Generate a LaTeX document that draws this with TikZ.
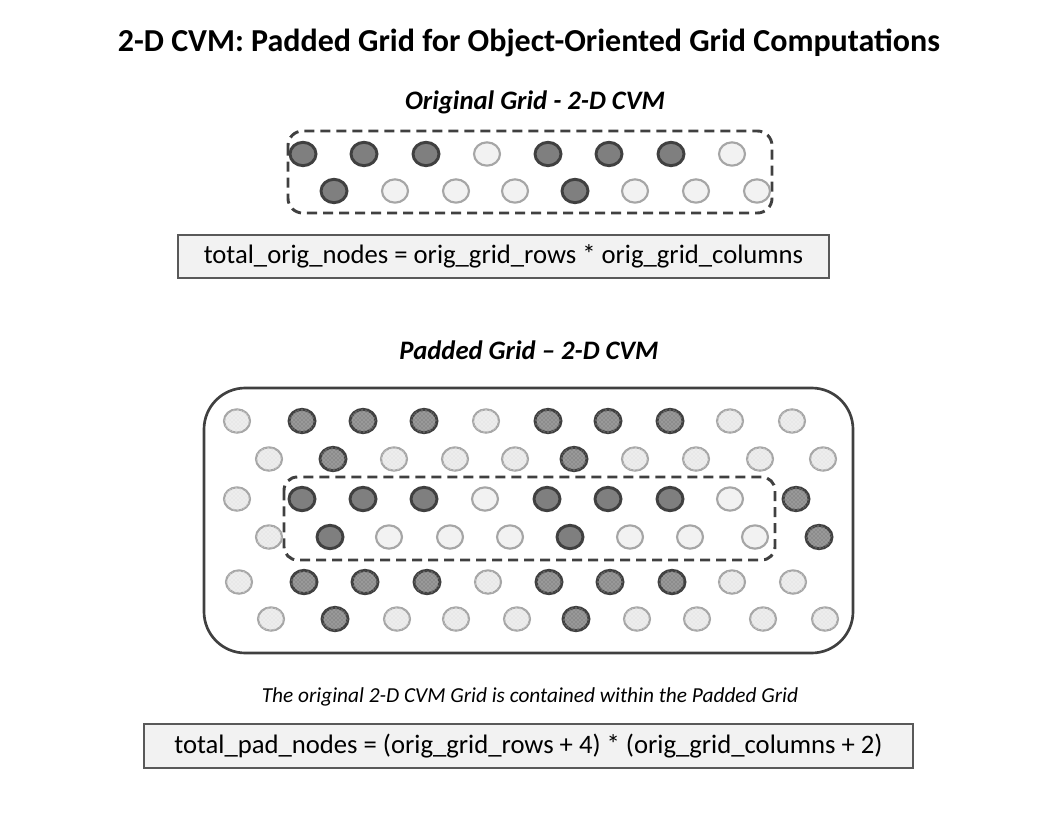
\documentclass[tikz,border=0pt]{standalone}
\usepackage{fontspec}
\setmainfont{Carlito}
\usetikzlibrary{shapes.geometric,patterns}

\begin{document}
\begin{tikzpicture}[x=0.75pt,y=-0.75pt,
  origdark/.style={ellipse,draw=edgedark,fill=dotdark,line width=2.2pt,
    minimum width=19.5pt,minimum height=17.5pt,inner sep=0pt},
  origlight/.style={ellipse,draw=edgelight,fill=dotlight,line width=1.6pt,
    minimum width=19.5pt,minimum height=17.5pt,inner sep=0pt},
  paddark/.style={origdark,fill=texdark,
    postaction={pattern=crosshatch dots,pattern color=gray!45}},
  padlight/.style={origlight,fill=texlight,
    postaction={pattern=crosshatch dots,pattern color=white}},
  formula/.style={draw=boxedge,fill=boxfill,line width=1.5pt,
    font=\fontsize{20}{24}\selectfont,inner sep=0pt},
  heading/.style={font=\fontsize{20}{24}\selectfont\bfseries\itshape}]
\definecolor{edgedark}{RGB}{64,64,64}
\definecolor{edgelight}{RGB}{166,166,166}
\definecolor{dotdark}{RGB}{127,127,127}
\definecolor{dotlight}{RGB}{242,242,242}
\definecolor{texdark}{RGB}{140,140,140}
\definecolor{texlight}{RGB}{232,232,232}
\definecolor{boxedge}{RGB}{89,89,89}
\definecolor{boxfill}{RGB}{242,242,242}
\useasboundingbox (0,0) rectangle (1056,816);

\node[font=\fontsize{24}{29}\selectfont\bfseries] (title) at (529,43)
  {2-D CVM: Padded Grid for Object-Oriented Grid Computations};

% Original grid.
\node[heading] (orighead) at (535,102) {Original Grid - 2-D CVM};
\draw[edgedark,line width=2.2pt,dash pattern=on 7.5pt off 4.5pt,rounded corners=11pt]
  (288,131) rectangle (772,213);
\foreach \x/\s [count=\i] in {303/origdark,364/origdark,426/origdark,487/origlight,
    548/origdark,609/origdark,671/origdark,732/origlight}
  \node[\s] (o1-\i) at (\x,154) {};
\foreach \x/\s [count=\i] in {334/origdark,395/origlight,456/origlight,515/origlight,
    575/origdark,635/origlight,696/origlight,757/origlight}
  \node[\s] (o2-\i) at (\x,191) {};
\node[formula,minimum width=488pt,minimum height=32pt] (origform) at (503.5,256.5)
  {total\_orig\_nodes = orig\_grid\_rows * orig\_grid\_columns};

% Padded grid.
\node[heading] (padhead) at (529,350) {Padded Grid -- 2-D CVM};
\draw[edgedark,line width=2pt,rounded corners=31pt] (204,388) rectangle (853,653);
\draw[edgedark,line width=2.2pt,dash pattern=on 7.5pt off 4.5pt,rounded corners=10pt]
  (284,477) rectangle (775,560);
\foreach \x/\s [count=\i] in {237/padlight,302/paddark,363/paddark,424/paddark,486/padlight,
    548/paddark,608/paddark,670/paddark,730/padlight,792/padlight}
  \node[\s] (p1-\i) at (\x,421) {};
\foreach \x/\s [count=\i] in {269/padlight,333/paddark,394/padlight,455/padlight,515/padlight,
    574/paddark,635/padlight,696/padlight,760/padlight,823/padlight}
  \node[\s] (p2-\i) at (\x,459) {};
\foreach \x/\s [count=\i] in {237/padlight,302/origdark,363/origdark,424/origdark,485/origlight,
    547/origdark,608/origdark,670/origdark,730/origlight,796/paddark}
  \node[\s] (p3-\i) at (\x,499) {};
\foreach \x/\s [count=\i] in {269/padlight,330/origdark,389/origlight,450/origlight,510/origlight,
    570/origdark,630/origlight,690/origlight,755/origlight,819/paddark}
  \node[\s] (p4-\i) at (\x,537) {};
\foreach \x/\s [count=\i] in {239/padlight,304/paddark,365/paddark,427/paddark,488/padlight,
    549/paddark,610/paddark,672/paddark,732/padlight,793/padlight}
  \node[\s] (p5-\i) at (\x,582) {};
\foreach \x/\s [count=\i] in {271/padlight,335/paddark,397/padlight,456/padlight,517/padlight,
    576/paddark,637/padlight,697/padlight,763/padlight,825/padlight}
  \node[\s] (p6-\i) at (\x,619) {};

\node[font=\fontsize{16}{19}\selectfont\itshape] (note) at (530,697)
  {The original 2-D CVM Grid is contained within the Padded Grid};
\node[formula,minimum width=577pt,minimum height=33pt] (padform) at (528.5,746)
  {total\_pad\_nodes = (orig\_grid\_rows + 4) * (orig\_grid\_columns + 2)};
\end{tikzpicture}
\end{document}
